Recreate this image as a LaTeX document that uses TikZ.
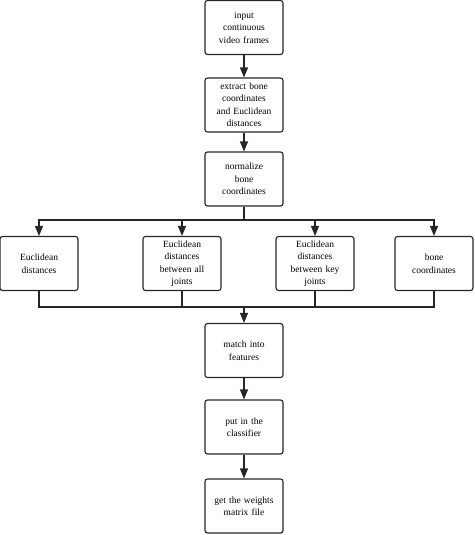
\documentclass[tikz,border=0pt]{standalone}
\usepackage{fontspec}
\setmainfont{Liberation Serif}
\usetikzlibrary{positioning,calc,arrows.meta}

\begin{document}
\begin{tikzpicture}[
        x=1pt, y=-1pt,
        every node/.style={font=\fontsize{9.5}{12.5}\selectfont},
        proc/.style={rectangle, draw=black!85, line width=1.1pt, fill=white, text width=2.6cm, align=center, minimum width=78pt, minimum height=54pt, rounded corners=2.5pt, inner sep=2pt},
        line/.style={draw=black!85, line width=1.2pt},
        arrow/.style={line, -{Triangle[length=10pt,width=8pt]}}
        ]
        \useasboundingbox (0,0) rectangle (474,535);

        % main column
        \node[proc] (input) at (244, 27.5) {input\\continuous\\video frames};
        \node[proc] (extract) at (244, 105) {extract bone\\coordinates\\and Euclidean\\distances};
        \node[proc] (normalize) at (244, 179) {normalize\\bone\\coordinates};

        % feature row
        \node[proc] (euc) at (39, 263.5) {Euclidean\\distances};
        \node[proc] (eucall) at (182, 263.5) {Euclidean\\distances\\between all\\joints};
        \node[proc] (euckey) at (315, 263.5) {Euclidean\\distances\\between key\\joints};
        \node[proc] (bone) at (434, 263.5) {bone\\coordinates};

        % lower column
        \node[proc] (match) at (244, 350.5) {match into\\features};
        \node[proc] (classify) at (244, 427) {put in the\\classifier};
        \node[proc] (weights) at (244, 506) {get the weights\\matrix file};

        \coordinate (split) at (244, 220);
        \coordinate (merge) at (244, 307);

        \draw[arrow] (input) -- (extract);
        \draw[arrow] (extract) -- (normalize);

        % fan out
        \draw[line] (normalize) -- (split);
        \draw[arrow] (split) -| (euc);
        \draw[arrow] (split) -| (eucall);
        \draw[arrow] (split) -| (euckey);
        \draw[arrow] (split) -| (bone);

        % fan in
        \draw[line] (euc) |- (merge);
        \draw[line] (eucall) |- (merge);
        \draw[line] (euckey) |- (merge);
        \draw[line] (bone) |- (merge);

        \draw[arrow] (merge) -- (match);
        \draw[arrow] (match) -- (classify);
        \draw[arrow] (classify) -- (weights);

    \end{tikzpicture}
\end{document}
